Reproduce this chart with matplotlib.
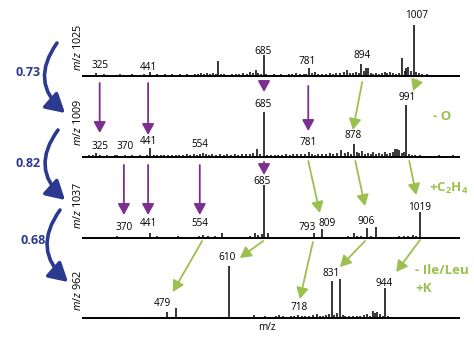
import matplotlib
matplotlib.use('Agg')
import matplotlib.pyplot as plt
from matplotlib.patches import ConnectionPatch, FancyArrowPatch

plt.rcParams['font.family'] = ['Open Sans', 'DejaVu Sans']
plt.rcParams['mathtext.fontset'] = 'custom'
plt.rcParams['mathtext.rm'] = 'Open Sans'
plt.rcParams['mathtext.it'] = 'Open Sans:italic'
plt.rcParams['mathtext.bf'] = 'Open Sans:bold'

# -----------------------------------------------------------------------------
# Data (m/z, relative intensity)
# -----------------------------------------------------------------------------

parents = [1025, 1009, 1037, 962]
ratios = ['0.73', '0.82', '0.68']

mz_1025 = [298, 305, 318, 325, 333, 342, 350, 358, 367, 375, 384, 392, 401, 410, 418, 427,
           434, 441, 448, 456, 464, 472, 480, 488, 496, 504, 512, 520, 528, 536, 543, 550,
           556, 563, 570, 576, 582, 586, 592, 600, 608, 616, 624, 632, 640, 648, 655, 661,
           667, 672, 679, 685, 690, 698, 706, 714, 722, 730, 738, 746, 754, 762, 770, 776,
           781, 788, 795, 802, 810, 818, 826, 833, 840, 848, 856, 864, 870, 876, 882, 888,
           894, 900, 903, 909, 914, 920, 926, 932, 938, 944, 950, 956, 962, 968, 974, 982,
           987, 990, 995, 1000, 1007, 1012, 1018, 1025, 1035, 1045, 1055, 1065, 1075, 1088, 1100]
int_1025 = [1, 1, 1.5, 3, 1, 2, 1, 1.5, 1, 2, 1.5, 1, 2, 1.5, 1, 2,
            1.5, 4, 1.5, 2, 1, 2, 1.5, 2, 1, 2, 1.5, 2, 1.5, 2.5, 2, 3,
            2, 3, 2, 3, 2.5, 15, 2, 2, 1.5, 2, 2.5, 2, 3, 2, 4, 3,
            6, 3, 2, 21, 2, 1.5, 2, 1.5, 2, 1.5, 2.5, 2, 3, 2, 2.5, 2,
            8, 3, 4, 2, 2.5, 2, 3, 2.5, 3, 3, 4, 6, 3, 3, 4, 3,
            12, 5, 8, 8, 3, 2.5, 3, 2.5, 3, 4, 3, 4, 3, 2.5, 3, 18,
            5, 8, 9, 5, 51, 4, 3, 2, 2, 1.5, 1.5, 1, 1.5, 1, 1]

mz_1009 = [300, 310, 318, 325, 332, 340, 348, 356, 364, 370, 378, 386, 394, 402, 410, 418,
           426, 434, 441, 448, 455, 463, 471, 479, 487, 495, 503, 511, 519, 527, 535, 542,
           548, 554, 560, 566, 574, 582, 590, 598, 606, 614, 622, 630, 638, 646, 654, 662,
           670, 677, 685, 692, 700, 708, 716, 724, 732, 740, 748, 756, 764, 772, 781, 788,
           795, 802, 810, 818, 826, 834, 842, 851, 858, 866, 872, 878, 884, 889, 896, 902,
           908, 914, 920, 926, 932, 938, 944, 950, 956, 962, 967, 971, 976, 981, 985, 991,
           996, 1002, 1010, 1020, 1032, 1045, 1060, 1075, 1090, 1100]
int_1009 = [1, 1.5, 2, 4, 1.5, 1, 1.5, 1, 1.5, 2, 1, 1.5, 1, 1.5, 1, 1.5,
            1, 1.5, 9, 2, 1.5, 1.5, 2, 1.5, 2, 1.5, 2, 2, 2.5, 2, 2.5, 2,
            3, 4, 3, 2, 2.5, 2, 2.5, 2, 2.5, 2, 2.5, 2, 2.5, 3, 2.5, 4,
            8, 3, 45, 2, 2, 2, 1.5, 2, 2.5, 2, 3, 2.5, 3, 2.5, 5, 2.5,
            2, 3, 2.5, 3, 4, 3, 4, 7, 4, 5, 3, 13, 5, 4, 6, 3,
            4, 3, 5, 3, 4, 3, 5, 3, 4, 5, 8, 8, 7, 4, 5, 52,
            3, 2, 1.5, 1.5, 1, 1, 1.5, 1, 1.5, 1]

mz_1037 = [320, 340, 355, 370, 385, 400, 425, 441, 455, 470, 485, 500, 515, 530, 545, 554,
           565, 580, 595, 620, 640, 655, 666, 672, 681, 685, 694, 705, 720, 740, 760, 775,
           793, 800, 809, 820, 835, 850, 865, 879, 885, 893, 906, 915, 926, 940, 955, 975,
           985, 995, 1005, 1012, 1019, 1030, 1050, 1070, 1090]
int_1037 = [1, 1, 1.5, 2, 1, 1.5, 1, 5, 2, 1.5, 1, 2, 1, 1.5, 2, 3,
            2, 2.5, 5, 1, 1.5, 2, 5, 3, 4, 53, 5, 1.5, 1, 1, 1, 1.5,
            5, 1.5, 9, 1, 1, 1.5, 2, 5, 2, 2, 10, 2, 11, 1, 1, 2,
            2.5, 2.5, 3, 2, 26, 1, 1, 1, 1]

mz_962 = [305, 320, 335, 350, 365, 380, 395, 410, 425, 440, 455, 468, 476, 485, 495, 505,
          520, 535, 550, 565, 580, 595, 605, 610, 620, 635, 650, 663, 675, 688, 700, 710,
          718, 726, 734, 742, 750, 758, 766, 774, 782, 790, 799, 806, 812, 818, 824, 831,
          836, 842, 848, 854, 860, 868, 876, 884, 892, 900, 906, 912, 919, 924, 928, 934,
          940, 944, 952, 960, 975, 990, 1010, 1030, 1050, 1070, 1090]
int_962 = [1, 1, 1.5, 1, 1, 1.5, 1, 1.5, 1, 1.5, 1, 1.5, 6, 1, 10, 1.5,
           1, 1.5, 1, 1.5, 1, 1.5, 1, 52, 1.5, 1, 1.5, 3, 1.5, 2, 1.5, 2,
           3, 2, 1.5, 2.5, 2, 3, 2, 2.5, 2, 3, 4, 2.5, 2, 3, 4, 37,
           3, 5, 39, 3, 2, 2.5, 2, 2.5, 2, 3, 4, 2.5, 7, 5, 6, 4,
           2, 30, 2, 1, 1, 1, 1.5, 1, 1, 1, 1]

spectra_mz = [mz_1025, mz_1009, mz_1037, mz_962]
spectra_int = [int_1025, int_1009, int_1037, int_962]

# peak labels: text, x position (m/z), height of label centre
labels_1025 = [('325', 332, 10), ('441', 436, 9), ('685', 683, 25), ('781', 777, 15),
               ('894', 896, 20), ('1007', 1012, 60)]
labels_1009 = [('325', 332, 10), ('370', 386, 10), ('441', 436, 15), ('554', 547, 12),
               ('685', 683, 52), ('781', 780, 14), ('878', 876, 21), ('991', 993, 59)]
labels_1037 = [('370', 384, 11), ('441', 436, 15), ('554', 547, 15), ('685', 681, 57),
               ('793', 777, 10), ('809', 820, 15), ('906', 904, 17), ('1019', 1020, 31)]
labels_962 = [('479', 466, 15), ('610', 605, 60), ('718', 760, 11), ('831', 829, 45),
              ('944', 943, 35)]
peak_labels = [labels_1025, labels_1009, labels_1037, labels_962]

# arrows between spectra: upper panel, start m/z, start y, end m/z, end y
purple_arrows = [(0, 332, -7, 332, 24), (0, 436, -7, 436, 22), (0, 685, -6, 685, 65),
                 (0, 780, -10, 780, 26),
                 (1, 384, -8, 384, 23), (1, 436, -8, 436, 23), (1, 547, -8, 547, 23),
                 (1, 685, -5, 685, 63)]
green_arrows = [(0, 896, -6, 876, 27), (0, 1014, -4, 1005, 66),
                (1, 780, -4, 805, 25), (1, 881, -4, 902, 32), (1, 997, -4, 1012, 43),
                (2, 552, -3, 489, 26), (2, 683, -3, 633, 60), (2, 790, -4, 762, 19),
                (2, 902, -3, 848, 51), (2, 1020, -2, 969, 46)]

PURPLE = '#7b2f8f'
GREEN = '#9cc04f'
BLUE = '#2b3990'

W, H = 474, 353
BASELINES = [76, 157, 238, 318]   # pixel rows from top

fig = plt.figure(figsize=(W / 100, H / 100), dpi=100)


def px(x, y):
    return (x / W, 1 - y / H)


axes = []
for i, base in enumerate(BASELINES):
    ax = fig.add_axes([82 / W, (H - base - 2) / H, 378 / W, 60 / H])
    ax.set_xlim(294, 1106)
    ax.set_ylim(-2, 58)
    ax.axis('off')
    ax.vlines(spectra_mz[i], 0, spectra_int[i], color='black', lw=1.1)
    ax.axhline(0, color='black', lw=1.4)
    for txt, xm, yh in peak_labels[i]:
        ax.text(xm, yh, txt, ha='center', va='center', fontsize=7.2, clip_on=False)
    axes.append(ax)

# parent ion labels
ylab_y = [47, 122, 205, 290]
for base, parent, yy in zip(BASELINES, parents, ylab_y):
    fig.text(*px(78, yy), r'$m/z$ ' + str(parent), rotation=90, ha='center', va='center',
             fontsize=7.8)

fig.text(*px(267, 328), 'm/z', ha='center', va='center', fontsize=7.2)

# arrows linking fragments
for arrows, col in [(purple_arrows, PURPLE), (green_arrows, GREEN)]:
    for i, x0, y0, x1, y1 in arrows:
        con = ConnectionPatch(xyA=(x0, y0), coordsA=axes[i].transData,
                              xyB=(x1, y1), coordsB=axes[i + 1].transData,
                              arrowstyle='-|>,head_length=0.55,head_width=0.3',
                              mutation_scale=12, color=col, lw=1.3, shrinkA=0, shrinkB=0)
        fig.add_artist(con)

# blue curved arrows with survival ratios
blue_pts = [((57, 43), (65, 113)), ((58, 130), (65, 200)), ((60, 210), (68, 282))]
ratio_pos = [(28, 72), (28, 163), (33, 241)]
for (p0, p1), r, rp in zip(blue_pts, ratios, ratio_pos):
    arr = FancyArrowPatch(px(*p0), px(*p1), transform=fig.transFigure,
                          connectionstyle='arc3,rad=0.45',
                          arrowstyle='-|>,head_length=0.7,head_width=0.4',
                          mutation_scale=16, color=BLUE, lw=2.6, shrinkA=0, shrinkB=0)
    fig.add_artist(arr)
    fig.text(*px(*rp), r, ha='center', va='center', fontsize=9, fontweight='bold', color=BLUE)

# neutral loss annotations
fig.text(*px(433, 116), '- O', ha='left', va='center', fontsize=9.5, fontweight='bold', color=GREEN)
fig.text(*px(429, 188), r'+C$_\mathbf{2}$H$_\mathbf{4}$', ha='left', va='center', fontsize=9.5,
         fontweight='bold', color=GREEN)
fig.text(*px(415, 271), '- Ile/Leu', ha='left', va='center', fontsize=9.5, fontweight='bold',
         color=GREEN)
fig.text(*px(415, 288), '+K', ha='left', va='center', fontsize=9.5, fontweight='bold', color=GREEN)

fig.savefig('out.png', dpi=100)
